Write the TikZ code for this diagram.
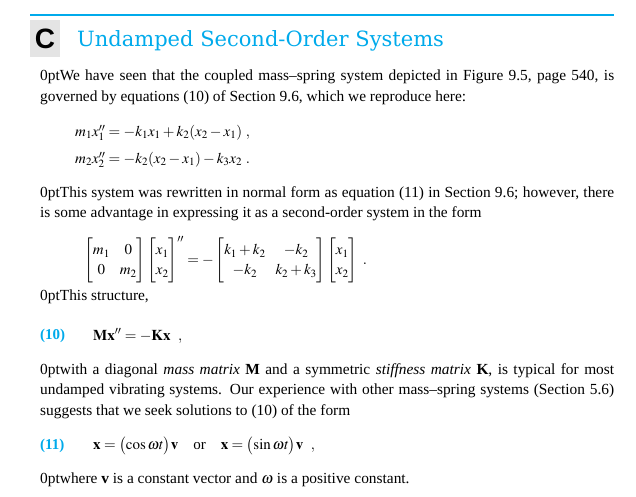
\documentclass[tikz,border=0pt]{standalone}
\usepackage{amsmath}
\usepackage{mathptmx}
\usepackage[no-math]{fontspec}
\setmainfont{Liberation Serif}
\newfontfamily\headfont{DejaVu Serif}
\newfontfamily\boxfont{Liberation Sans}
\definecolor{headblue}{RGB}{0,170,235}
\definecolor{boxgray}{RGB}{228,228,228}
\tikzset{
  para/.style={anchor=north west, inner sep=0pt, text width=574pt, align=justify,
    font=\fontsize{15.4}{20.5}\selectfont\hyphenpenalty=10000\exhyphenpenalty=10000},
  eqn/.style={anchor=west, inner sep=0pt, font=\fontsize{15}{20}\selectfont},
  eqnum/.style={anchor=west, inner sep=0pt, text=headblue, font=\fontsize{15}{20}\selectfont\bfseries}
}
\begin{document}
\begin{tikzpicture}[x=1pt, y=-1pt]
  \useasboundingbox (0,0) rectangle (636,497);
  % heading
  \draw[headblue, line width=1.6pt] (30,15) -- (614,15);
  \node[fill=boxgray, minimum width=30pt, minimum height=37pt, inner sep=0pt,
    font=\boxfont\bfseries\fontsize{28}{28}\selectfont] (letter) at (45,39) {C};
  \node[anchor=west, inner sep=0pt, text=headblue, font=\headfont\fontsize{21}{21}\selectfont]
    (title) at (77,41) {Undamped Second-Order Systems};
  % text
  \node[para] (p1) at (40,70) {We have seen that the coupled mass--spring system depicted in Figure 9.5, page 540, is governed by equations (10) of Section 9.6, which we reproduce here:};
  \node[eqn] (e1) at (75,133) {$m_1x_1'' = -k_1x_1 + k_2(x_2 - x_1)\ ,$};
  \node[eqn] (e2) at (75,160) {$m_2x_2'' = -k_2(x_2 - x_1) - k_3x_2\ .$};
  \node[para] (p2) at (40,186) {This system was rewritten in normal form as equation (11) in Section 9.6; however, there is some advantage in expressing it as a second-order system in the form};
  \node[eqn] (mat) at (84,260) {$\begin{bmatrix} m_1 & 0\\ 0 & m_2\end{bmatrix}
    \begin{bmatrix} x_1\\ x_2\end{bmatrix}'' = -\begin{bmatrix} k_1+k_2 & -k_2\\ -k_2 & k_2+k_3\end{bmatrix}
    \begin{bmatrix} x_1\\ x_2\end{bmatrix}\ .$};
  \node[para] (p3) at (40,290) {This structure,};
  \node[eqnum] (n10) at (40,336) {(10)};
  \node[eqn] (e10) at (93,336) {$\mathbf{M}\mathbf{x}'' = -\mathbf{K}\mathbf{x}\ \ ,$};
  \node[para] (p4) at (40,363) {with a diagonal \emph{mass matrix} \textbf{M} and a symmetric \emph{stiffness matrix} \textbf{K}, is typical for most undamped vibrating systems. Our experience with other mass--spring systems (Section 5.6) suggests that we seek solutions to (10) of the form};
  \node[eqnum] (n11) at (40,446) {(11)};
  \node[eqn] (e11) at (93,446) {$\mathbf{x} = \bigl(\cos\omega t\bigr)\mathbf{v}\quad\text{or}\quad \mathbf{x} = \bigl(\sin\omega t\bigr)\mathbf{v}\ \ ,$};
  \node[para] (p5) at (40,473) {where \textbf{v} is a constant vector and $\omega$ is a positive constant.};
\end{tikzpicture}
\end{document}
